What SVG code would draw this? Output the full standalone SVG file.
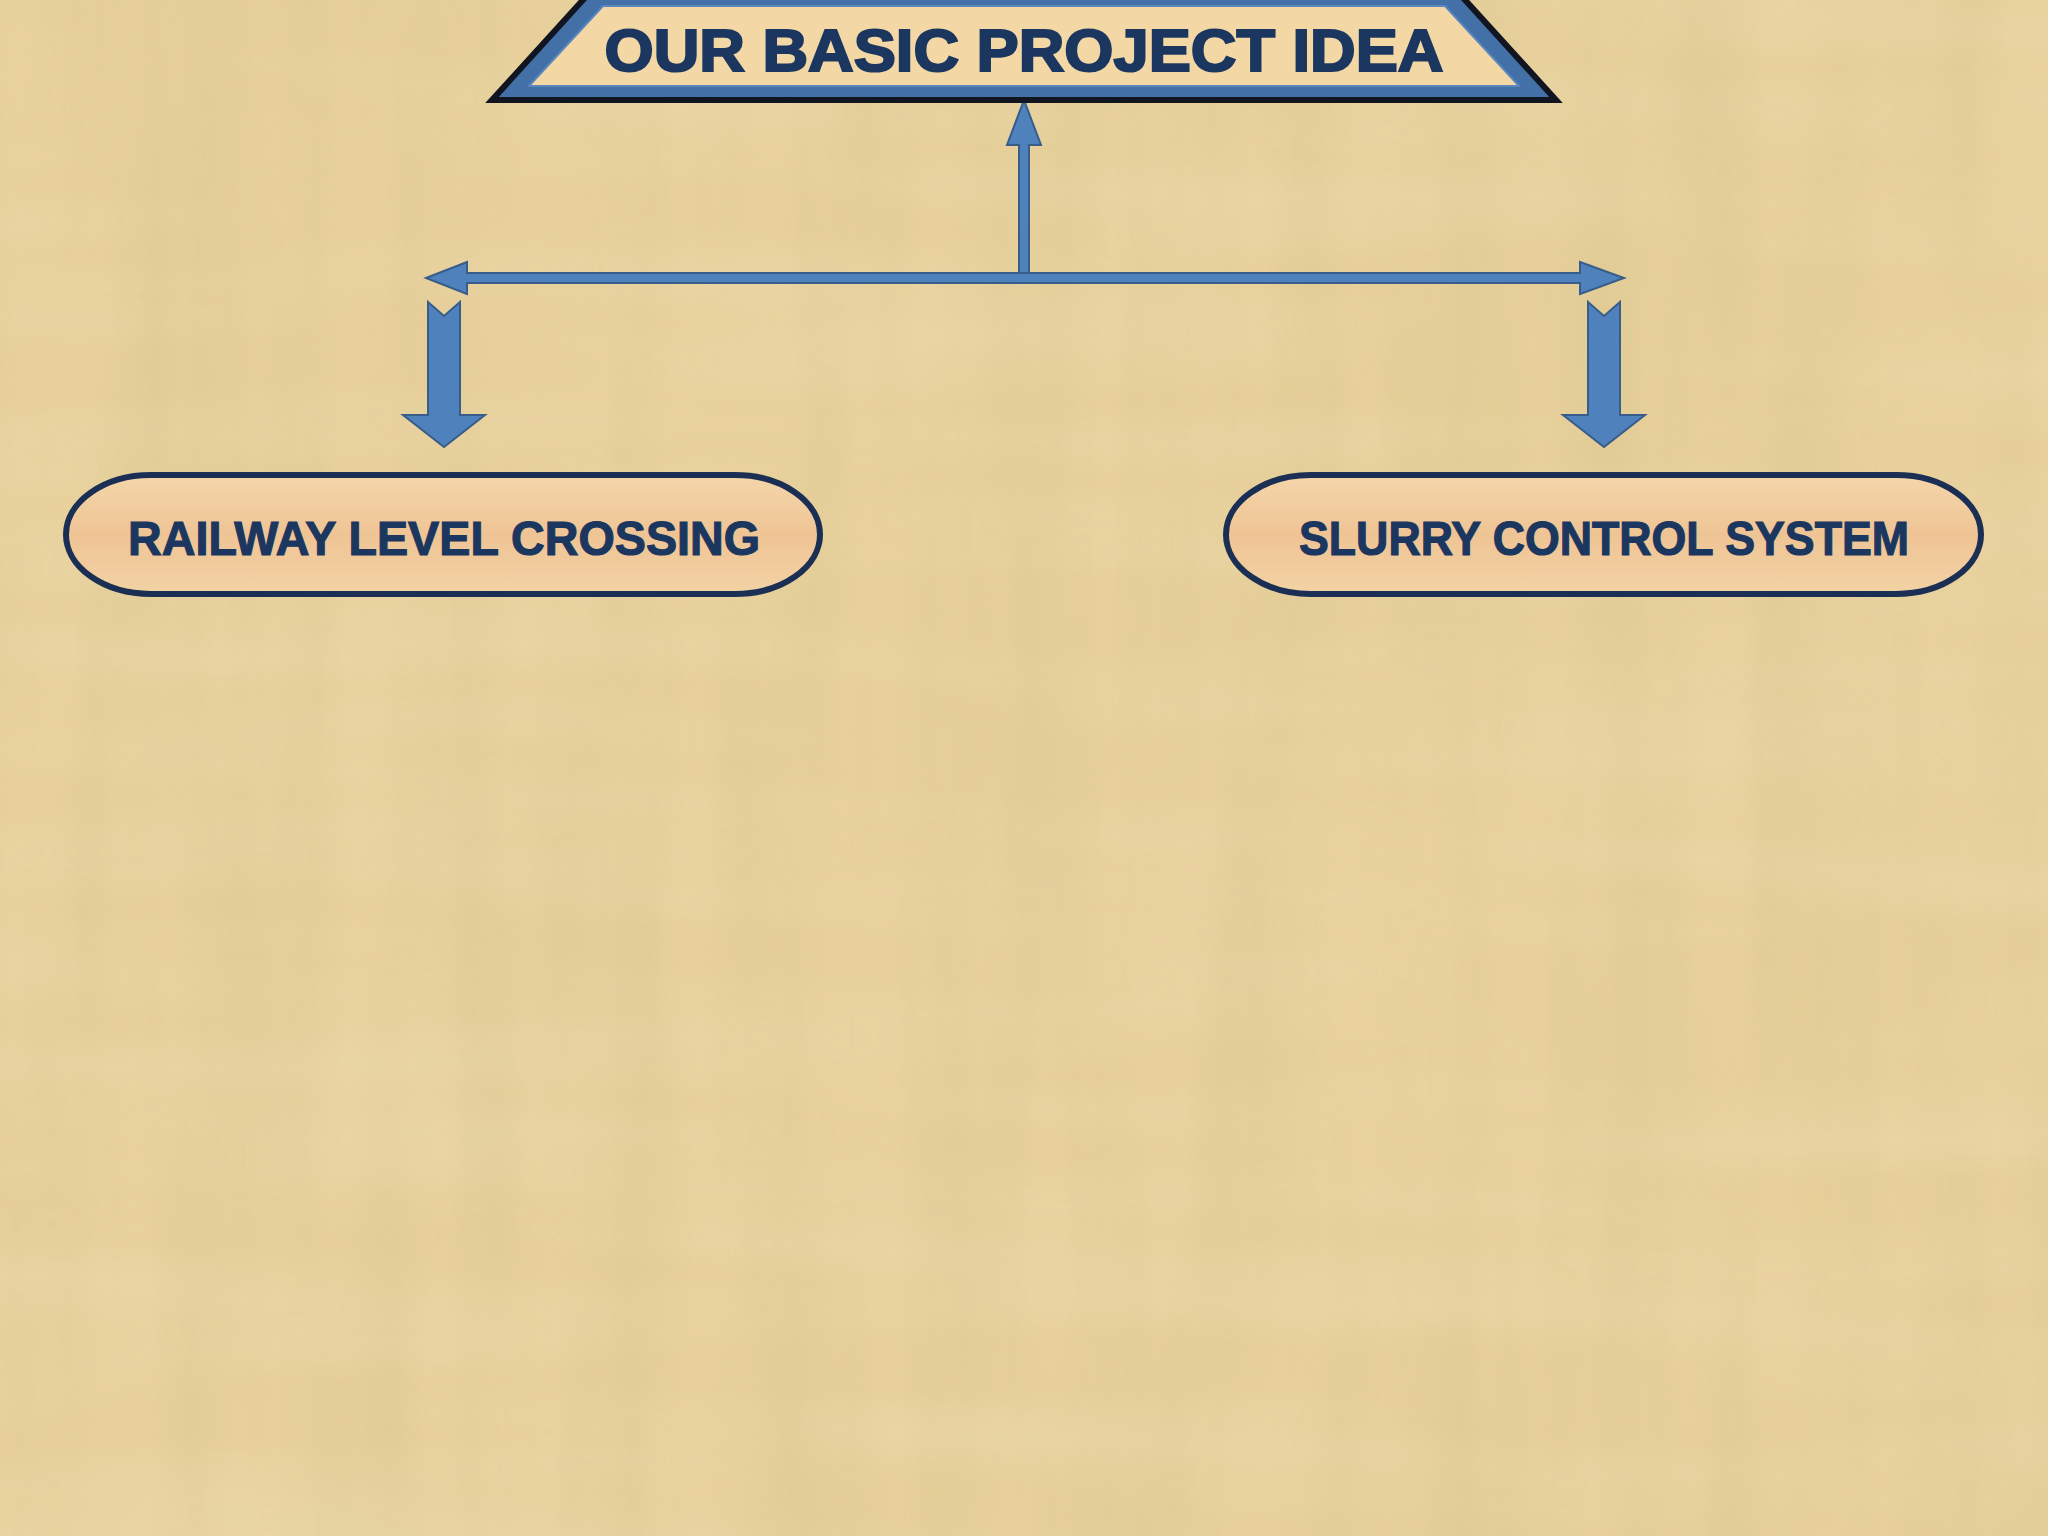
<svg xmlns="http://www.w3.org/2000/svg" width="2048" height="1536" viewBox="0 0 2048 1536">
<defs>
<style>
.arrow{fill:#4F81BD;stroke:#385D8A;stroke-width:2;stroke-linejoin:miter}
.pill{fill:url(#pillGrad);stroke:#1B2F55;stroke-width:6}
.lbl{font-family:"Liberation Sans",Arial,sans-serif;font-weight:bold;fill:#1B365F;text-anchor:middle;stroke:#1B365F}
</style>
<linearGradient id="pillGrad" x1="0" y1="0" x2="0" y2="1">
<stop offset="0" stop-color="#F4D6AA"/>
<stop offset="0.5" stop-color="#EFC495"/>
<stop offset="1" stop-color="#F2D2A4"/>
</linearGradient>
<filter id="paper" x="0" y="0" width="100%" height="100%">
<feTurbulence type="fractalNoise" baseFrequency="0.012 0.0015" numOctaves="3" seed="4" result="n"/>
<feColorMatrix in="n" type="matrix" values="0 0 0 0 0.55  0 0 0 0 0.45  0 0 0 0 0.2  0 0 0 0.9 -0.3"/>
</filter>
<filter id="paper2" x="0" y="0" width="100%" height="100%">
<feTurbulence type="fractalNoise" baseFrequency="0.0015 0.012" numOctaves="2" seed="9" result="n"/>
<feColorMatrix in="n" type="matrix" values="0 0 0 0 0.98  0 0 0 0 0.92  0 0 0 0 0.75  0 0 0 0.8 -0.28"/>
</filter>
</defs>
<g id="background">
<rect x="0" y="0" width="2048" height="1536" fill="#E7D09B"/>
<rect x="0" y="0" width="2048" height="1536" filter="url(#paper)" opacity="0.35"/>
<rect x="0" y="0" width="2048" height="1536" filter="url(#paper2)" opacity="0.35"/>
</g>
<g id="connectors">
<polygon class="arrow" points="1019,275 1019,145 1007,145 1024,100 1041,145 1029,145 1029,275"/>
<polygon class="arrow" points="426,278 467,262 467,273 1580,273 1580,262 1624,278 1580,294 1580,283 467,283 467,294"/>
<polygon class="arrow" points="428,302 444,316 460,302 460,415 485,415 444,447 403,415 428,415"/>
<polygon class="arrow" points="1588,302 1604,316 1620,302 1620,415 1645,415 1604,447 1563,415 1588,415"/>
</g>
<g id="node-title">
<polygon points="592,-10 1456,-10 1556,100 492,100" fill="#4470A8" stroke="#10151F" stroke-width="6" stroke-linejoin="miter"/>
<polygon points="603,6 1445,6 1519,86 529,86" fill="#F3D8A6" stroke="#5B86BE" stroke-width="2"/>
<text class="lbl" x="1024" y="71" font-size="60" textLength="839" lengthAdjust="spacingAndGlyphs" stroke-width="2.2">OUR BASIC PROJECT IDEA</text>
</g>
<g id="node-railway">
<rect class="pill" x="66" y="475" width="754" height="119" rx="85" ry="59.5"/>
<text class="lbl" x="444" y="555" font-size="49" textLength="632" lengthAdjust="spacingAndGlyphs" stroke-width="1.2">RAILWAY LEVEL CROSSING</text>
</g>
<g id="node-slurry">
<rect class="pill" x="1226" y="475" width="755" height="119" rx="85" ry="59.5"/>
<text class="lbl" x="1604" y="555" font-size="49" textLength="610" lengthAdjust="spacingAndGlyphs" stroke-width="1.2">SLURRY CONTROL SYSTEM</text>
</g>
</svg>
